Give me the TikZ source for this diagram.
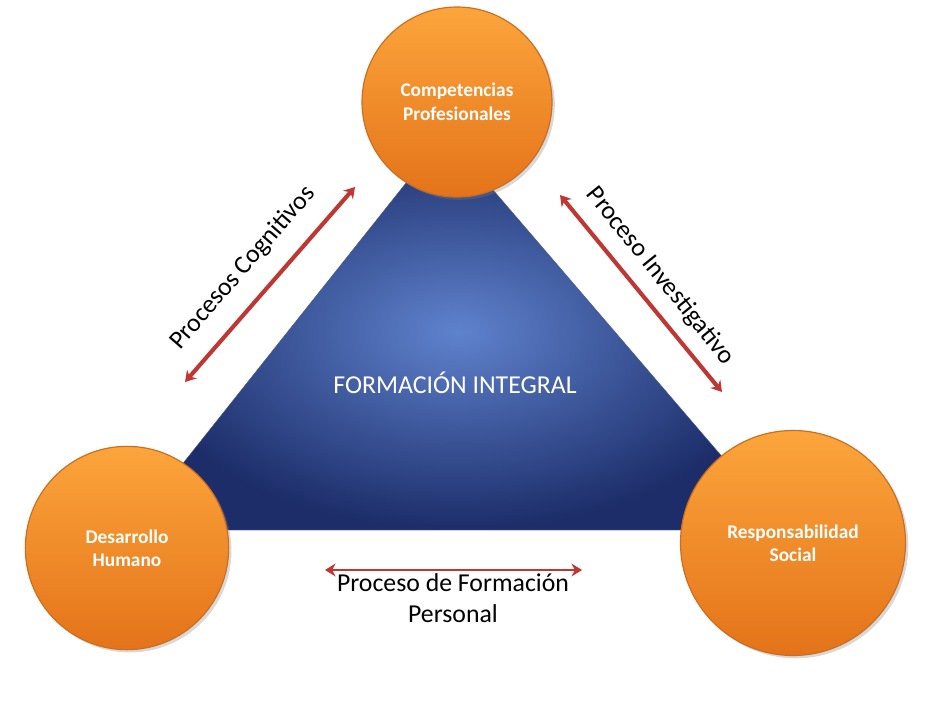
\documentclass[tikz,border=0pt]{standalone}
\usepackage{fontspec}
\setmainfont{Carlito}
\usetikzlibrary{arrows.meta,shadows}
\definecolor{orL}{RGB}{252,165,60}
\definecolor{orD}{RGB}{228,115,25}
\definecolor{orB}{RGB}{205,110,30}
\definecolor{blL}{RGB}{95,130,205}
\definecolor{blD}{RGB}{28,45,105}
\definecolor{arr}{RGB}{190,55,50}
\tikzset{
 ball/.style={circle,draw=orB,line width=1pt,top color=orL,bottom color=orD,text=white,font=\fontsize{16.5}{20}\selectfont\bfseries,align=center,drop shadow={opacity=0.3}},
 dblarrow/.style={draw=arr,line width=3.5pt,{Stealth[length=9pt,width=11pt]}-{Stealth[length=9pt,width=11pt]}},
 lbl/.style={font=\fontsize{22}{27}\selectfont,text=black,align=center}
}
\begin{document}
\begin{tikzpicture}[x=0.03cm,y=-0.03cm]
\useasboundingbox (0,0) rectangle (931,703);
\fill[white] (0,0) rectangle (931,703);
\path[shading=radial,inner color=blL,outer color=blD,draw=blD!80] (445,134) -- (785,530) -- (130,530) -- cycle;
\node[text=white,font=\fontsize{22}{26}\selectfont] (fi) at (455,383) {FORMACIÓN INTEGRAL};
\node[ball,minimum size=5.7cm] (cp) at (457,102) {Competencias\\Profesionales};
\node[ball,minimum size=6.1cm] (dh) at (127,548) {Desarrollo\\Humano};
\node[ball,minimum size=6.75cm] (rs) at (793,543) {Responsabilidad\\Social};
\coordinate (a1) at (355,187); \coordinate (a2) at (185,382);
\coordinate (b1) at (560,195); \coordinate (b2) at (722,392);
\coordinate (c1) at (325,570); \coordinate (c2) at (582,570);
\draw[dblarrow] (a1) -- (a2);
\draw[dblarrow] (b1) -- (b2);
\draw[dblarrow,line width=2.5pt] (c1) -- (c2);
\node[lbl,rotate=49] (l1) at (243,268) {Procesos Cognitivos};
\node[lbl,rotate=-51] (l2) at (660,276) {Proceso Investigativo};
\node[lbl] (l3) at (453,598) {Proceso de Formación\\Personal};
\end{tikzpicture}
\end{document}
